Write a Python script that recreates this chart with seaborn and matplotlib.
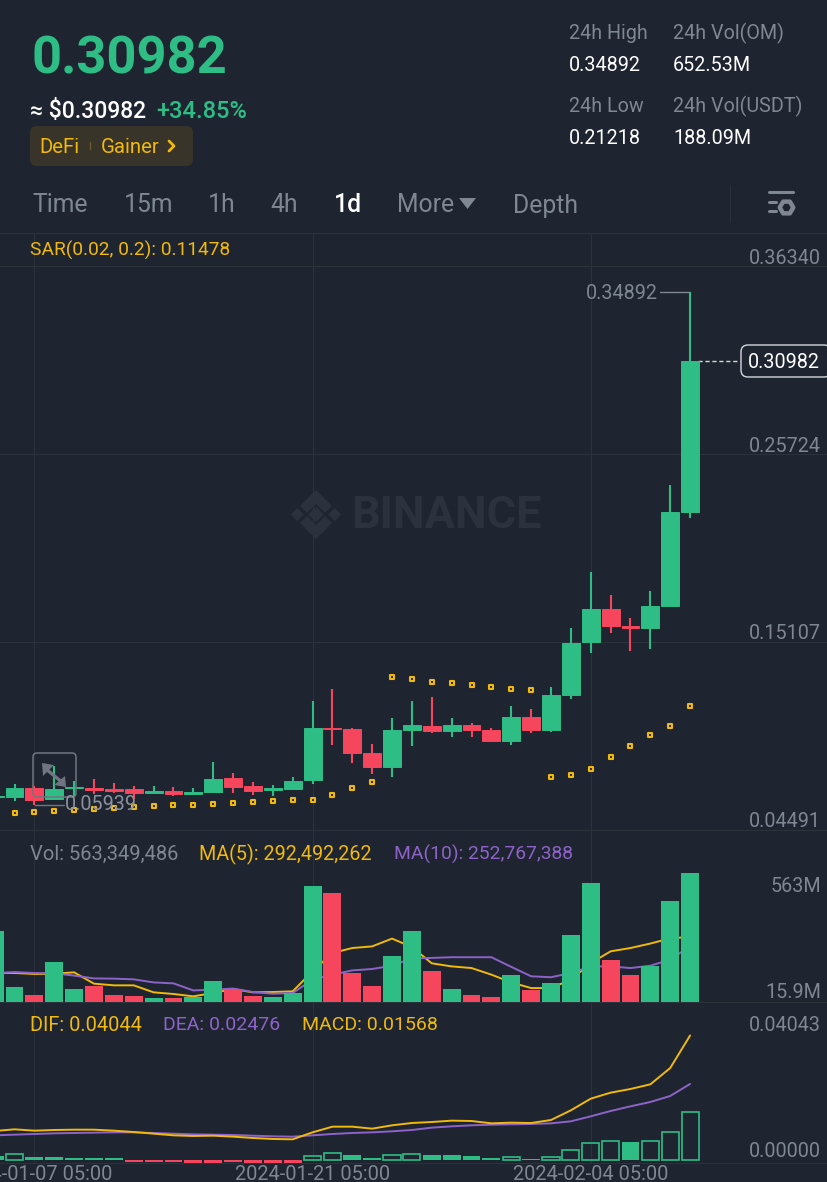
import numpy as np
import pandas as pd
import seaborn as sns
import matplotlib.pyplot as plt
from matplotlib.patches import FancyBboxPatch, Polygon

# candle data, first entry is the partial candle on the left edge
days = list(range(-1, 35))
opens = [.06355, .06355, .06863, .06242, .06863, .06863, .06806, .06806, .06581, .06693, .06524, .06637,
         .07428, .06976, .06750, .06806, .07315, .10251, .10195, .08839, .08049, .10138, .10364, .10082,
         .10421, .10138, .09517, .10872, .10138, .12115, .15108, .16972, .16011, .15899, .17141, .22449]
closes = [.06411, .06863, .06185, .06806, .06919, .06750, .06693, .06581, .06693, .06524, .06637, .07371,
          .06919, .06693, .06863, .07258, .10251, .10195, .08839, .08049, .10138, .10421, .10082, .10421,
          .10138, .09517, .10872, .10138, .12115, .15051, .16972, .16011, .15899, .17141, .22449, .30982]
highs = [.06411, .07089, .06976, .08105, .07258, .07371, .07145, .06976, .06976, .06919, .06863, .08331,
         .07710, .07202, .07032, .07484, .11775, .12449, .10251, .09348, .10816, .11776, .12002, .10816,
         .10534, .10251, .11494, .11324, .12567, .15899, .19061, .17762, .16463, .17988, .23974, .34892]
lows = [.06355, .06129, .05903, .06185, .06355, .06524, .06581, .06242, .06581, .06411, .06524, .06637,
        .06581, .06468, .06411, .06806, .07089, .09291, .08275, .07653, .07484, .09235, .09969, .09743,
        .09743, .09461, .09291, .09969, .10025, .11889, .14487, .15616, .14600, .14713, .17141, .22111]
sar = [np.nan, .05451, .05508, .05564, .05620, .05677, .05733, .05790, .05846, .05903, .05903, .05959,
       .06016, .06072, .06129, .06185, .06185, .06468, .06863, .07202, .13131, .13018, .12849, .12793,
       .12680, .12567, .12454, .12397, .07484, .07597, .07936, .08614, .09235, .09856, .10364, .11478]

volume = [316, 81, 45.6, 184, 72.4, 82.5, 47, 40, 32.9, 31.4, 37, 106, 72.4, 40, 35.7, 54, 507, 477,
          138, 82.5, 210, 316, 147.5, 71, 47, 37, 130, 65.5, 96.5, 301.6, 521, 193, 132, 167, 444, 563.3]
ma5 = [139, 139, 135, 136, 141.8, 93.7, 86.6, 86.6, 56.9, 49.9, 39.9, 54.1, 71.1, 56.9, 58.3, 61.2, 146,
       224, 245, 252, 285, 249, 180, 167, 160, 132, 99, 75, 75, 111, 181, 231, 245, 264, 286, 292.5]
ma10 = [139, 143, 139, 138, 128, 116, 115, 112, 99, 95, 65, 68, 73, 58, 51, 54, 111, 132, 150, 156, 170,
        201, 203, 206, 206, 206, 165, 125, 121, 139, 167, 167, 160, 170, 196, 252.8]

dif = [.00954, .01008, .00965, .00987, .00997, .00997, .00965, .00922, .00868, .00814, .00793, .00803,
       .00771, .00728, .00696, .00685, .00911, .01094, .01094, .01030, .01138, .01213, .01245, .01289,
       .01278, .01202, .01224, .01213, .01310, .01623, .02000, .02194, .02313, .02464, .02992, .04044]
dea = [.00814, .00836, .00857, .00879, .00890, .00900, .00911, .00911, .00890, .00868, .00846, .00836,
       .00825, .00803, .00782, .00771, .00814, .00857, .00890, .00911, .00944, .00987, .01062, .01105,
       .01138, .01159, .01170, .01181, .01202, .01267, .01429, .01601, .01752, .01892, .02087, .02476]
macd = [.0016, .0020, .0011, .0011, .0009, .0007, .0007, -.0006, -.0006, -.0006, -.0008, -.0010, -.0006,
        -.0008, -.0008, -.0012, .0013, .0024, .0019, .0009, .0018, .0022, .0019, .0018, .0013, .0007,
        .0011, .0006, .0011, .0035, .0058, .0062, .0060, .0062, .0092, .01568]

price_ticks = [.36340, .25724, .15107, .04491]
date_ticks = [1, 15, 29]
date_labels = ['2024-01-07 05:00', '2024-01-21 05:00', '2024-02-04 05:00']

BG = '#1e2530'
GRID = '#2b323c'
GREEN = '#2ebd85'
RED = '#f6465d'
YELLOW = '#f0b90b'
PURPLE = '#8e63c9'
GRAY = '#7f8793'
W, H = 828, 1182

sns.set_theme(style='dark', rc={'figure.facecolor': BG, 'axes.facecolor': BG, 'savefig.facecolor': BG})
plt.rcParams['font.family'] = ['Roboto', 'DejaVu Sans']

fig = plt.figure(figsize=(W / 100, H / 100), dpi=100)


def panel(top, bottom, ylim):
    ax = fig.add_axes([0, 1 - bottom / H, 1, (bottom - top) / H])
    ax.set_facecolor('none')
    ax.set_xlim(-0.73, 40.94)
    ax.set_ylim(*ylim)
    for s in ax.spines.values():
        s.set_visible(False)
    return ax


def finish(ax, yticks):
    ax.set_xlim(-0.73, 40.94)
    ax.set_xticks(date_ticks)
    ax.set_yticks(yticks)
    ax.set_xlabel('')
    ax.set_ylabel('')
    ax.tick_params(left=False, bottom=False, labelleft=False, labelbottom=False, length=0)
    ax.grid(True, color=GRID, linewidth=0.8, zorder=0)
    ax.set_axisbelow(True)
    for ln in ax.get_xgridlines() + ax.get_ygridlines():
        ln.set_clip_on(False)


ax_price = panel(234, 830, (.04491, .38149))
ax_vol = panel(830, 1002, (15.9, 745.9))
ax_macd = panel(1002, 1163, (-.00081, .05127))

# candles
colors = [GREEN if c >= o else RED for o, c in zip(opens, closes)]
ax_price.vlines(days, lows, highs, colors=colors, linewidth=1.5, zorder=3)
ax_price.bar(days, np.abs(np.array(closes) - np.array(opens)), bottom=np.minimum(opens, closes), width=0.9,
             color=colors, edgecolor=colors, linewidth=0.7, zorder=4)
sns.scatterplot(x=days, y=sar, marker='s', s=10, color=BG, edgecolor=YELLOW, linewidth=1.5, ax=ax_price, zorder=5)
ax_price.plot([32.5, 34], [.34892, .34892], color=GRAY, linewidth=1, zorder=2)
ax_price.plot([34.4, 36.5], [.30982, .30982], color='#d5d8dc', linewidth=1, linestyle=(0, (3, 2)), zorder=2)
finish(ax_price, price_ticks)

# volume
df_vol = pd.DataFrame({'day': days, 'vol': volume, 'side': colors})
sns.lineplot(x=days, y=ma5, color=YELLOW, linewidth=1.4, ax=ax_vol, zorder=2)
sns.lineplot(x=days, y=ma10, color=PURPLE, linewidth=1.4, ax=ax_vol, zorder=2)
sns.barplot(data=df_vol, x='day', y='vol', hue='side', palette={GREEN: GREEN, RED: RED}, dodge=False,
            native_scale=True, width=0.9, saturation=1, legend=False, linewidth=0, edgecolor='none', ax=ax_vol,
            zorder=3)
ax_vol.set_ylim(15.9, 745.9)
finish(ax_vol, [15.9])

# macd
sns.lineplot(x=days, y=dea, color=PURPLE, linewidth=1.4, ax=ax_macd, zorder=3)
sns.lineplot(x=days, y=dif, color=YELLOW, linewidth=1.4, ax=ax_macd, zorder=3)
rising = np.diff(macd, prepend=macd[0]) > 0
for d, v, r in zip(days, macd, rising):
    col = GREEN if v >= 0 else RED
    if r and v >= 0:
        ax_macd.bar(d, v, width=0.86, facecolor='none', edgecolor=col, linewidth=1.2, zorder=4)
    else:
        ax_macd.bar(d, v, width=0.9, facecolor=col, edgecolor='none', linewidth=0, zorder=4)
ax_macd.set_ylim(-.00081, .05127)
finish(ax_macd, [-.00081])
ax_macd.tick_params(labelbottom=True, pad=1.5, labelsize=14.4, labelcolor=GRAY)
ax_macd.set_xticklabels(date_labels)

# everything around the chart is placed on a pixel overlay
ov = fig.add_axes([0, 0, 1, 1], zorder=10)
ov.set_xlim(0, W)
ov.set_ylim(H, 0)
ov.axis('off')


def label(x, y, s, color=GRAY, size=14.2, ha='left', weight='normal', **kw):
    ov.text(x, y + 1.5, s, color=color, fontsize=size, ha=ha, va='center', fontweight=weight, **kw)


label(32, 58.5, '0.30982', GREEN, 37.7, weight='bold')
label(30, 109.5, '≈ $0.30982', 'white', 16.5, weight='medium')
label(156, 109.5, '+34.85%', GREEN, 17, weight='medium')

ov.add_patch(FancyBboxPatch((30, 126), 163, 40, boxstyle='round,pad=0,rounding_size=7', facecolor='#38342a',
                            edgecolor='none', linewidth=0))
label(39, 146, 'DeFi', YELLOW, 14.7)
ov.plot([90, 90], [142, 149], color='#6b5d2e', linewidth=1)
label(101, 146, 'Gainer', YELLOW, 14.7)
ov.plot([169, 174, 169], [141, 146, 151], color=YELLOW, linewidth=2)

for x, s in [(32, 'Time'), (124, '15m'), (208, '1h'), (270, '4h'), (397, 'More'), (513, 'Depth')]:
    label(x, 204, s, GRAY, 17.8)
label(334, 204, '1d', 'white', 17.8, weight='medium')
ov.add_patch(Polygon([[459, 198], [476, 198], [467.5, 209]], facecolor=GRAY, edgecolor='none'))
ov.plot([730, 730], [185, 222], color=GRID, linewidth=0.8)
# settings icon
ov.plot([769, 793], [192, 192], color=GRAY, linewidth=2.2)
ov.plot([769, 776], [202, 202], color=GRAY, linewidth=2.2)
ov.plot([769, 776], [211, 211], color=GRAY, linewidth=2.2)
ov.scatter([786], [207], s=95, marker='H', facecolor=BG, edgecolor=GRAY, linewidth=3.2)
ov.plot([0, W], [233, 233], color=GRID, linewidth=0.8)

for x, y, s, col in [(569, 32, '24h High', GRAY), (673, 32, '24h Vol(OM)', GRAY),
                     (569, 64, '0.34892', 'white'), (673, 64, '652.53M', 'white'),
                     (569, 105, '24h Low', GRAY), (673, 105, '24h Vol(USDT)', GRAY),
                     (569, 137, '0.21218', 'white'), (673, 137, '188.09M', 'white')]:
    label(x, y, s, col, 14.2)

label(30, 249, 'SAR(0.02, 0.2): 0.11478', YELLOW, 13.8)
for y, s in [(257, '0.36340'), (445, '0.25724'), (632, '0.15107'), (820, '0.04491'),
             (885, '563M'), (991, '15.9M'), (1024, '0.04043'), (1150, '0.00000')]:
    label(821, y, s, GRAY, ha='right')
label(658, 292, '0.34892', GRAY, ha='right')
ov.add_patch(FancyBboxPatch((741, 345), 90, 32, boxstyle='round,pad=0,rounding_size=7', facecolor=BG,
                            edgecolor='#d5d8dc', linewidth=1))
label(784, 361, '0.30982', 'white', 14.2, ha='center')

label(30, 853, 'Vol: 563,349,486', GRAY, 14.5)
label(199, 853, 'MA(5): 292,492,262', YELLOW, 14.2)
label(394, 853, 'MA(10): 252,767,388', PURPLE, 13.9)
label(30, 1024, 'DIF: 0.04044', YELLOW, 14.4)
label(163, 1024, 'DEA: 0.02476', PURPLE, 14)
label(302, 1024, 'MACD: 0.01568', YELLOW, 14)

# watermark
MARK = '#2b323d'
label(351, 515, 'BINANCE', MARK, 32.4, weight='bold')
for pts in [[[316, 490], [332, 506], [325, 513], [316, 504], [307, 513], [300, 506]],
            [[316, 539], [332, 523], [325, 516], [316, 525], [307, 516], [300, 523]],
            [[316, 507], [324, 514.5], [316, 522], [308, 514.5]],
            [[297, 508], [304, 514.5], [297, 521], [291, 514.5]],
            [[335, 508], [341, 514.5], [335, 521], [328, 514.5]]]:
    ov.add_patch(Polygon(pts, facecolor=MARK, edgecolor='none', zorder=0))

# expand icon and low label
ICON = '#6f7681'
ov.add_patch(FancyBboxPatch((33, 753), 43, 44, boxstyle='round,pad=0,rounding_size=4', facecolor='none',
                            edgecolor=ICON, linewidth=1.1))
ov.plot([35, 64], [804.5, 804.5], color=ICON, linewidth=1)
ov.add_patch(Polygon([[42, 763], [54, 765], [43, 776]], facecolor=ICON, edgecolor='none'))
ov.add_patch(Polygon([[66, 787], [54, 785], [65, 776]], facecolor=ICON, edgecolor='none'))
ov.plot([46, 63], [769, 783], color=ICON, linewidth=2.4)
label(65, 803.5, '0.05939', '#8b929d')

fig.savefig('out.png', dpi=100)
